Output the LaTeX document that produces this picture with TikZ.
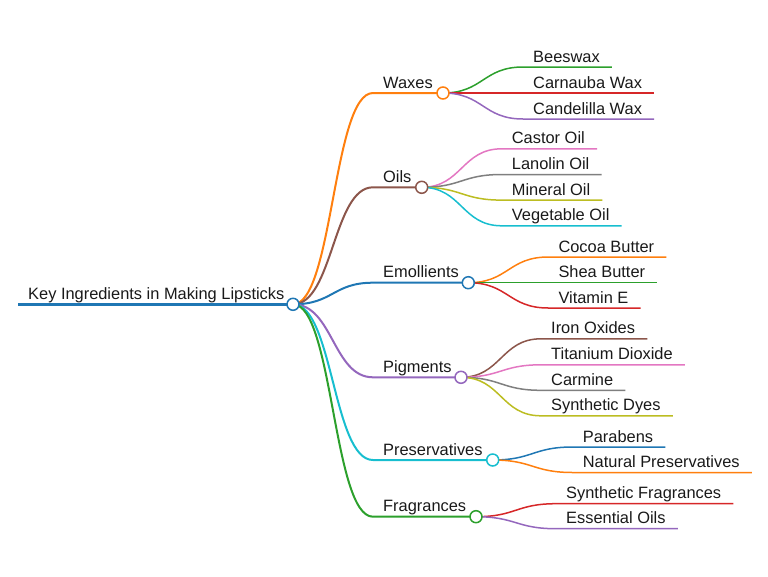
\documentclass[tikz,border=0pt]{standalone}
\usepackage{fontspec}
\setmainfont{Liberation Sans}
\usetikzlibrary{calc}

\definecolor{cblue}{HTML}{1F77B4}
\definecolor{corange}{HTML}{FF7F0E}
\definecolor{cgreen}{HTML}{2CA02C}
\definecolor{cred}{HTML}{D62728}
\definecolor{cpurple}{HTML}{9467BD}
\definecolor{cbrown}{HTML}{8C564B}
\definecolor{cpink}{HTML}{E377C2}
\definecolor{cgray}{HTML}{7F7F7F}
\definecolor{colive}{HTML}{BCBD22}
\definecolor{ccyan}{HTML}{17BECF}

\tikzset{
  lbl/.style={font=\fontsize{16.4}{19}\selectfont, text=black!90, anchor=base west, inner sep=0pt},
  dot/.style={circle, draw=#1, fill=white, line width=1.5pt, minimum size=12pt, inner sep=0pt},
}

% parent, name, dy, colour, text
\newcommand{\leafitem}[5]{%
  \coordinate (#2) at ($(#1)+(80,#3)$);
  \node[lbl] (#2-t) at ($(#2)+(10,-5)$) {#5};
  \draw[#4, line width=1.5pt] (#1) .. controls ($(#1)+(40,0)$) and ($(#2)+(-40,0)$) .. (#2)
    -- ($(#2-t.base east)+(12,5)$);
}

\begin{document}
\begin{tikzpicture}[x=1pt,y=-1pt]
  \useasboundingbox (0,0) rectangle (768,576);

  % root
  \coordinate (root-s) at (18,304.3);
  \coordinate (root-c) at (293,304.3);
  \node[lbl] (root-t) at (28,299.3) {Key Ingredients in Making Lipsticks};
  \draw[cblue, line width=3.5pt] (root-s) -- (root-c);

  % categories
  \foreach \n/\y/\x/\c/\t in {waxes/93/443/corange/Waxes,
      oils/187.3/421.7/cbrown/Oils,
      emol/282.7/468.3/cblue/Emollients,
      pigm/377.3/461/cpurple/Pigments,
      pres/460/492.7/ccyan/Preservatives,
      frag/516.7/476/cgreen/Fragrances}{
    \coordinate (\n) at (373,\y);
    \coordinate (\n-c) at (\x,\y);
    \node[lbl] (\n-t) at (383,\y-5) {\t};
    \draw[\c, line width=2pt] (root-c) .. controls ($(root-c)+(40,0)$) and ($(\n)+(-40,0)$) .. (\n) -- (\n-c);
  }

  % ingredients
  \foreach \n/\d/\c/\t in {bees/-26/cgreen/Beeswax, carn/0/cred/Carnauba Wax,
      cand/26/cpurple/Candelilla Wax}
    {\leafitem{waxes-c}{\n}{\d}{\c}{\t}}
  \foreach \n/\d/\c/\t in {cast/-38.5/cpink/Castor Oil, lano/-12.8/cgray/Lanolin Oil,
      mine/12.8/colive/Mineral Oil, vege/38.5/ccyan/Vegetable Oil}
    {\leafitem{oils-c}{\n}{\d}{\c}{\t}}
  \foreach \n/\d/\c/\t in {coco/-25.7/corange/Cocoa Butter, shea/0/cgreen/Shea Butter,
      vite/25.3/cred/Vitamin E}
    {\leafitem{emol-c}{\n}{\d}{\c}{\t}}
  \foreach \n/\d/\c/\t in {iron/-38.5/cbrown/Iron Oxides, tita/-12.5/cpink/Titanium Dioxide,
      carm/13/cgray/Carmine, syndy/38.5/colive/Synthetic Dyes}
    {\leafitem{pigm-c}{\n}{\d}{\c}{\t}}
  \foreach \n/\d/\c/\t in {para/-13/cblue/Parabens, natp/12.5/corange/Natural Preservatives}
    {\leafitem{pres-c}{\n}{\d}{\c}{\t}}
  \foreach \n/\d/\c/\t in {synfr/-13/cred/Synthetic Fragrances, esso/12/cpurple/Essential Oils}
    {\leafitem{frag-c}{\n}{\d}{\c}{\t}}

  % circles on top
  \foreach \n/\c in {root/cblue, waxes/corange, oils/cbrown, emol/cblue,
      pigm/cpurple, pres/ccyan, frag/cgreen}
    \node[dot=\c] (\n-dot) at (\n-c) {};
\end{tikzpicture}
\end{document}
